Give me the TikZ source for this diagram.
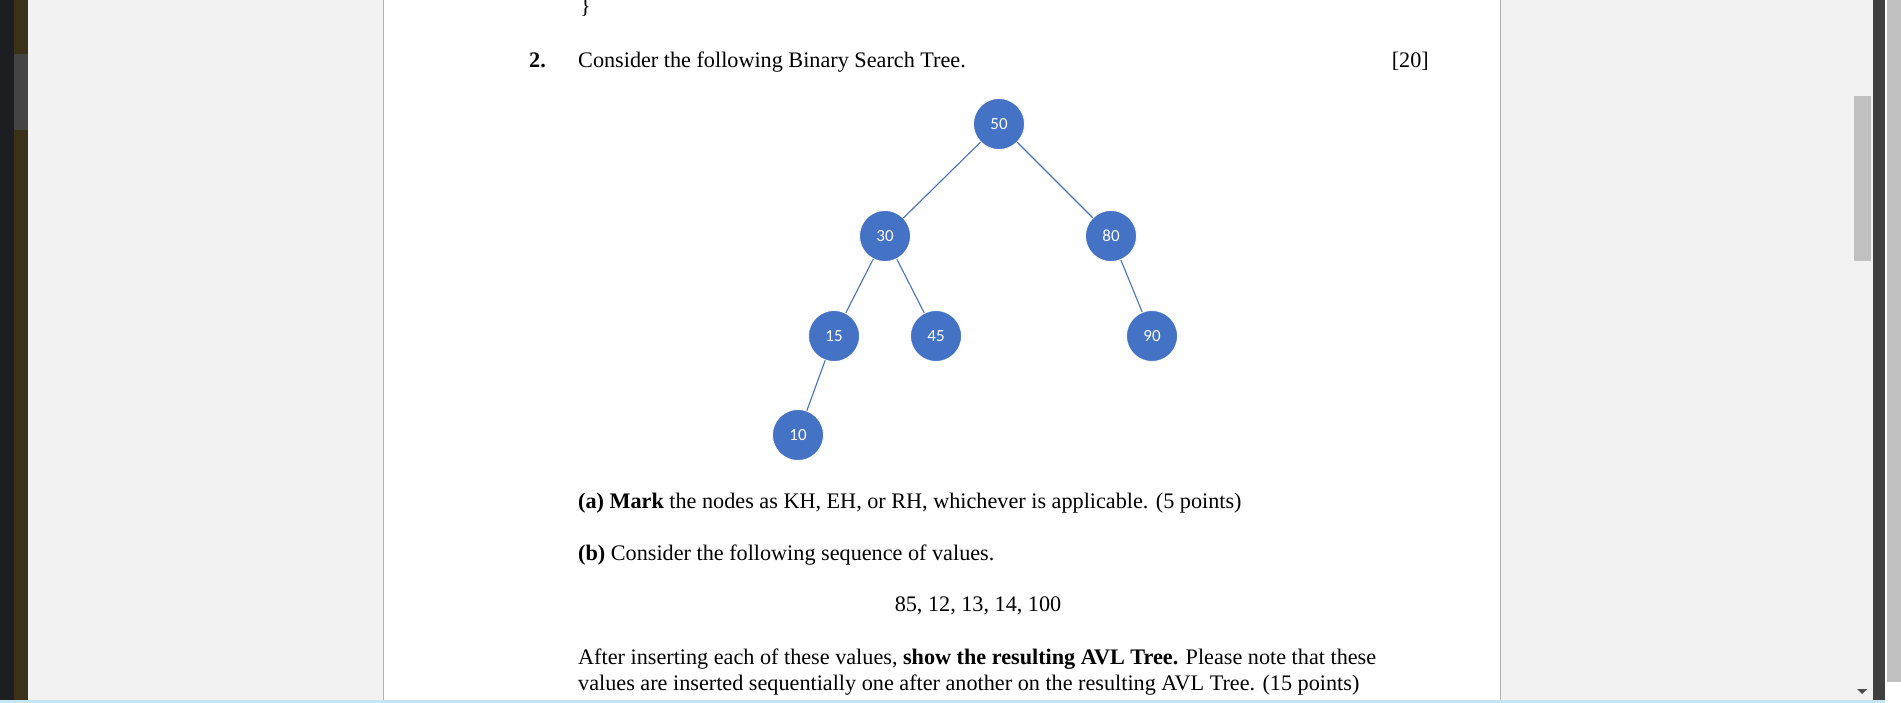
\documentclass[tikz,border=0pt]{standalone}
\usepackage{fontspec}
\setmainfont{Liberation Serif}
\newfontfamily\nodefont{Carlito}
\begin{document}
\begin{tikzpicture}[x=1pt,y=-1pt,
  bst/.style={circle,fill=nodeblue,draw=white,line width=0.8pt,minimum size=51pt,inner sep=0pt,text=white,font=\nodefont\fontsize{17}{20}\selectfont},
  edge/.style={draw=nodeblue,line width=1.1pt},
  txt/.style={anchor=base west,inner sep=0pt,font=\fontsize{22.2}{26}\selectfont}]
\definecolor{nodeblue}{HTML}{4472C4}
\useasboundingbox (0,0) rectangle (1901,703);
\fill[fill={rgb,255:red,28;green,30;blue,33}] (0,0) rectangle (14,703);
\fill[fill={rgb,255:red,59;green,49;blue,24}] (14,0) rectangle (28,703);
\fill[fill={rgb,255:red,68;green,68;blue,68}] (14,54) rectangle (28,130);
\fill[fill={rgb,255:red,242;green,242;blue,242}] (28,0) rectangle (1873,703);
\fill[white] (384,0) rectangle (1500,703);
\draw[gray!60,line width=1pt] (383.5,0) -- (383.5,703) (1500.5,0) -- (1500.5,703);
\fill[fill={rgb,255:red,192;green,192;blue,192}] (1854,96) rectangle (1871,261);
\fill[fill={rgb,255:red,64;green,64;blue,64}] (1873,0) rectangle (1885,703);
\fill[fill={rgb,255:red,192;green,192;blue,192}] (1887,0) rectangle (1901,682);
\fill[fill={rgb,255:red,200;green,230;blue,240}] (0,700) rectangle (1885,703);
\fill[black!70] (1857,689) -- (1867,689) -- (1862,694) -- cycle;
\node[txt] (brace) at (580,14) {\}};
\node[txt] (num) at (529,68) {\textbf{2.}};
\node[txt] (q) at (578,68) {Consider the following Binary Search Tree.};
\node[txt,anchor=base east] (pts) at (1429,68) {[20]};
\node[bst] (n50) at (999,124) {50};
\node[bst] (n30) at (885,236) {30};
\node[bst] (n80) at (1111,236) {80};
\node[bst] (n15) at (834,336) {15};
\node[bst] (n45) at (936,336) {45};
\node[bst] (n90) at (1152,336) {90};
\node[bst] (n10) at (798,435) {10};
\draw[edge] (n50) -- (n30);
\draw[edge] (n50) -- (n80);
\draw[edge] (n30) -- (n15);
\draw[edge] (n30) -- (n45);
\draw[edge] (n80) -- (n90);
\draw[edge] (n15) -- (n10);
\node[txt] (pa) at (578,508) {\textbf{(a) Mark} the nodes as KH, EH, or RH, whichever is applicable. (5 points)};
\node[txt] (pb) at (578,560) {\textbf{(b)} Consider the following sequence of values.};
\node[txt,anchor=base] (seq) at (978,611) {85, 12, 13, 14, 100};
\node[txt] (l1) at (578,664) {After inserting each of these values, \textbf{show the resulting AVL Tree.} Please note that these};
\node[txt] (l2) at (578,690) {values are inserted sequentially one after another on the resulting AVL Tree. (15 points)};
\end{tikzpicture}
\end{document}
